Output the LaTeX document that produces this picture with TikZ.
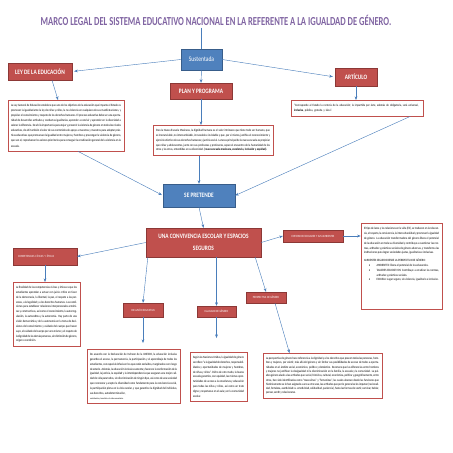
\documentclass[tikz,border=0pt]{standalone}
\usepackage{fontspec}
\setmainfont{Carlito}
\newfontfamily\condfont{Carlito}[FakeStretch=0.8]
\newfontfamily\titlefont{Carlito}[FakeStretch=0.7]
\usepackage{tikz}
\usepackage{xcolor}
\usetikzlibrary{arrows.meta, positioning, shadows}
\definecolor{boxred}{RGB}{192, 80, 77}
\definecolor{boxredline}{RGB}{140, 56, 54}
\definecolor{boxblue}{RGB}{79, 129, 189}
\definecolor{boxblueline}{RGB}{56, 93, 138}
\definecolor{linkblue}{RGB}{74, 126, 187}
\definecolor{titlepurple}{RGB}{128, 100, 162}
\newcommand{\bodyfont}{\condfont\fontsize{4.6}{6.9}\selectfont}
\newcommand{\bulletline}[1]{\par\hangindent=18pt\hangafter=1\noindent\hspace*{7pt}\makebox[11pt][l]{\textbullet}#1}

\begin{document}
\begin{tikzpicture}[
    x=0.05cm, y=-0.05cm,
    redbox/.style={draw=boxredline, fill=boxred, line width=0.5pt, text=white, inner sep=1pt,
        drop shadow={shadow xshift=0.8pt, shadow yshift=-0.8pt, opacity=0.3},
        font=\condfont\bfseries\fontsize{9.5}{11}\selectfont},
    bluebox/.style={redbox, draw=boxblueline, fill=boxblue},
    tagbox/.style={redbox, font=\condfont\fontsize{4.5}{5}\selectfont},
    txtbox/.style={draw=boxred, line width=0.9pt, fill=white, anchor=north, align=justify,
        inner xsep=0.15cm, inner ysep=0.2cm, font=\bodyfont,
        drop shadow={shadow xshift=0.8pt, shadow yshift=-0.8pt, opacity=0.2}},
    arrow/.style={-{Stealth[length=1.8mm, width=1.4mm]}, linkblue, line width=0.6pt}
]
\useasboundingbox (0,0) rectangle (453,453);

% Title and first level
\node[font=\titlefont\bfseries\fontsize{17.4}{19}\selectfont, text=titlepurple] (title) at (216,20)
    {MARCO LEGAL DEL SISTEMA EDUCATIVO NACIONAL EN LA REFERENTE A LA IGUALDAD DE GÉNERO.};
\node[bluebox, font=\condfont\fontsize{10}{12}\selectfont, minimum width=2.05cm, minimum height=1.05cm] (sust) at (201.5,59.5) {Sustentada};

\node[redbox, minimum width=3.2cm, minimum height=0.85cm] (ley) at (40,71.5) {LEY DE LA EDUCACIÓN};
\node[redbox, minimum width=3.1cm, minimum height=0.8cm] (plan) at (201,91) {PLAN Y PROGRAMA};
\node[redbox, minimum width=2.1cm, minimum height=0.9cm] (art) at (356,77) {ARTÍCULO};

% Text boxes of the first level
\node[txtbox, text width=5.5cm, font=\condfont\fontsize{4.6}{7.2}\selectfont] (txtley) at (66,100) {La Ley General de Educación establece que uno de los objetivos de la educación que imparta el Estado es promover la igualdad ante la ley de niñas y niños, la no violencia en cualquiera de sus manifestaciones, y propiciar el conocimiento y respeto de los derechos humanos. El proceso educativo debe ser una oportunidad de desarrollar actitudes y conductas igualitarias, aprender a convivir y aprender en la diversidad a valorar la diferencia. De ahí la importancia para atajar y prevenir la violencia de género en todos los niveles educativos, de ahí también el valor de sus contenidos de apoyo a maestras y maestros para adoptar prácticas educativas que promuevan la igualdad entre mujeres y hombres y prevengan la violencia de género, que son el, reproduzcan los valores prioritarios para conseguir la erradicación general de la violencia en la escuela.};

\node[txtbox, text width=5.7cm] (txtplan) at (213,125) {Para la Nueva Escuela Mexicana, la dignidad humana es el valor intrínseco que tiene todo ser humano, que es irrenunciable, no intercambiable, irrevocable e inviolable y que, por sí mismo, justifica el reconocimiento y ejercicio efectivo de sus derechos humanos y justicia social. La tarea principal de la nueva escuela es propiciar que niñas y adolescentes, junto con sus profesoras y profesores, sepan el encuentro de la humanidad de los otros y las otras, entendidas en su diversidad. \textbf{(nueva escuela mexicana, excelencia, inclusión y equidad).}};

\node[txtbox, text width=6.3cm, align=left] (txtart) at (357,100) {“Corresponde al Estado la rectoría de la educación; la impartida por éste, además de obligatoria, será universal, \textbf{inclusiva}, pública, gratuita y laica”.};

% Middle
\node[bluebox, minimum width=3.6cm, minimum height=1.15cm] (pret) at (199,195.5) {SE PRETENDE};
\node[redbox, font=\condfont\bfseries\fontsize{9.5}{18}\selectfont, align=center, minimum width=5.75cm, minimum height=1.45cm] (conv) at (203.5,242.5)
    {UNA CONVIVENCIA ESCOLAR Y ESPACIOS\\SEGUROS};

% Second level
\node[tagbox, align=left, text width=2.7cm, inner xsep=0.25cm, minimum height=0.85cm] (comp) at (45,256.5) {COMPETENCIAS CÍVICAS Y ÉTICAS};
\node[tagbox, minimum width=3cm, minimum height=0.6cm] (ent) at (313,236) {ENTORNOS ESCOLARES Y SUS AMBIENTES};
\node[tagbox, minimum width=2cm, minimum height=0.7cm] (inc) at (143,310) {INCLUSIÓN EDUCATIVA};
\node[tagbox, minimum width=1.95cm, minimum height=0.55cm] (ig) at (216.5,311.5) {IGUALDAD DE GÉNERO};
\node[tagbox, minimum width=2cm, minimum height=0.55cm] (persp) at (266,297.5) {PERSPECTIVA DE GÉNERO};

% Text boxes of the second level
\node[txtbox, text width=3.05cm] (txtcomp) at (46.5,282) {La finalidad de las competencias cívicas y éticas es que los estudiantes aprendan a actuar con juicio crítico en favor de la democracia, la libertad, la paz, el respeto a las personas, a la legalidad y a los derechos humanos. Las condiciones para establecer relaciones interpersonales armónicas y constructivas, así como el conocimiento, la autorregulación, la autoestima y la autonomía. Hay parte de una visión democrática y de la autonomía en la toma de decisiones del conocimiento y cuidado del cuerpo que hacen suyo, el cuidado del cuerpo por uno mismo y el respeto de la dignidad de las demás personas, sin distinción de género, origen o condición.};

\node[txtbox, text width=3.75cm] (txtent) at (401.5,223) {El tipo de lazos y las relaciones en la vida (ES), se traducen en la relevancia, el respeto, la convivencia, la interculturalidad y promover la igualdad de género. La educación transformadora del género libera el potencial de la educación en toda su diversidad y contribuye a cuestionar las normas, actitudes y prácticas sociales de género adversas, y transforma las instituciones para lograr sociedades justas, igualitarias e inclusivas.\par\vspace{4pt}
\noindent AMBIENTES SEGUROS DESDE LA PERSPECTIVA DE GÉNERO:
\bulletline{AMBIENTES: libera el potencial de los educandos.}
\bulletline{TALLERES EDUCATIVOS: Contribuye a erradicar las normas, actitudes y prácticas sociales.}
\bulletline{ESCUELA: Lugar seguro, sin violencia, igualitario e inclusivo.}
\par\noindent\rule{0pt}{1.15cm}};

\node[txtbox, text width=4.35cm] (txtinc) at (133.5,349) {De acuerdo con la Declaración de Incheon de la UNESCO, la educación inclusiva garantiza el acceso, la permanencia, la participación y el aprendizaje de todos los estudiantes, con especial énfasis en los que están excluidos, marginados o en riesgo de estarlo. Además, la educación inclusiva sustenta y favorece la conformación de la igualdad, la justicia, la equidad y la interdependencia que aseguran una mejor calidad de vida para todos, sin discriminación de ningún tipo, así como de una sociedad que reconozca y acepte la diversidad como fundamento para la convivencia social, la participación plena en la vida escolar, y que garantice la dignidad del individuo, sus derechos, autodeterminación,\par{\fontsize{3.2}{4}\selectfont contribución y beneficio a la vida comunitaria.}};

\node[txtbox, text width=2.55cm] (txtig) at (218.5,352) {Según las Naciones Unidas, la igualdad de género se refiere “a la igualdad de derechos, responsabilidades y oportunidades de mujeres y hombres, de niñas y niños”. Dicho de otro modo, la buena escuela garantiza, con equidad, las mismas oportunidades de acceso a la enseñanza y educación para todas las niñas y niños, así como un trato digno y respetuoso en el aula y en la comunidad escolar.};

\node[txtbox, text width=5.65cm, font=\condfont\fontsize{4.6}{6.1}\selectfont] (txtpersp) at (322.5,353) {La perspectiva de género hace referencia a la dignidad y a los derechos que poseen todas las personas, hombres y mujeres, por existir, más allá del género y sin limitar sus posibilidades de acceso de todos a oportunidades en el ámbito social, económico, político y doméstico. Reconoce que las diferencias entre hombres y mujeres no justifican la desigualdad ni la discriminación en la familia, la escuela y la comunidad. La palabra género alude a las actitudes que social, histórica, cultural, económica, política y geográficamente, entre otros, han sido identificadas como “masculinas” y “femeninas”, las cuales abarcan desde las funciones que históricamente se le han asignado a uno u otro sexo, las actitudes que por lo general se les imputan (racionalidad, fortaleza, asertividad vs. emotividad, solidaridad, paciencia), hasta las formas de vestir, caminar, hablar, pensar, sentir y relacionarse.};

% Connectors
\draw[linkblue, line width=0.6pt] (sust.north |- title.south) -- (sust.north);
\draw[arrow, shorten >=1mm] (sust.west) -- (ley.east);
\draw[arrow, shorten >=1mm] (sust.east) -- (art.west);
\draw[arrow] (sust.south) -- (plan.north);
\draw[arrow] ([xshift=0.6cm]ley.south) -- ([xshift=-0.4cm]txtley.north);
\draw[arrow] (plan.south) -- (plan.south |- txtplan.north);
\draw[arrow] (art.south) -- (art.south |- txtart.north);
\draw[arrow, shorten >=0.5mm] ([xshift=0.6cm]txtley.south) -- (pret.west);
\draw[arrow] ([xshift=-0.65cm]txtart.south east) -- (pret.east);
\draw[arrow] (pret.north |- txtplan.south) -- (pret.north);
\draw[arrow] (pret.south) -- (conv.north);
\draw[arrow] (conv.west) -- (comp.east);
\draw[arrow] (conv.east) -- (ent.west);
\draw[arrow] (ent.east) -- (ent.east -| txtent.west);
\draw[arrow] (comp.south) -- (comp.south |- txtcomp.north);
\draw[arrow] ([xshift=0.1cm]conv.south west) -- (inc.north);
\draw[arrow, shorten >=0.3cm] (inc.south) -- (inc.south |- txtinc.north);
\draw[arrow] (ig.north |- conv.south) -- (ig.north);
\draw[arrow, shorten >=0.7cm] (ig.south) -- (ig.south |- txtig.north);
\draw[arrow] ([xshift=-0.3cm]conv.south east) -- (persp.north);
\draw[arrow] ([xshift=0.45cm]persp.south) -- ([xshift=-1.65cm]txtpersp.north);

\end{tikzpicture}
\end{document}
